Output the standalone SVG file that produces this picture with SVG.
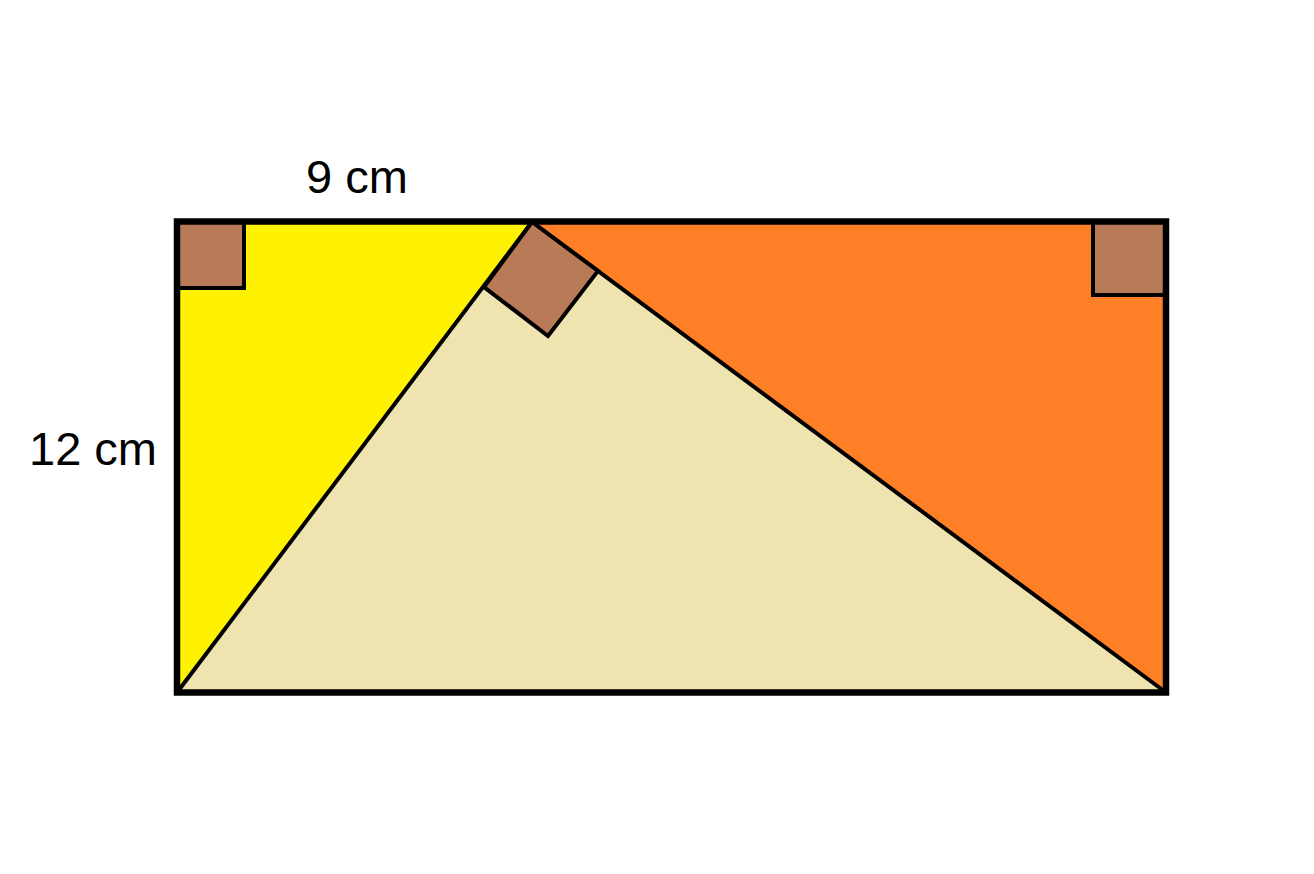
<svg xmlns="http://www.w3.org/2000/svg" width="1314" height="874" viewBox="0 0 1314 874">
<style>
.thin{stroke:#000;stroke-width:4;stroke-linejoin:miter;}
.sq{fill:#B97A57;stroke:#000;stroke-width:4;}
.lbl{font-family:"Liberation Sans",Arial,sans-serif;font-size:47px;fill:#000;}
</style>
<rect width="1314" height="874" fill="#fff"/>
<g id="yellow-triangle"><polygon points="177,221.5 532,221.5 177,692.5" fill="#FFF200"/></g>
<g id="orange-triangle"><polygon points="532,221.5 1166,221.5 1166,692.5" fill="#FF7F27"/></g>
<g id="beige-triangle"><polygon points="177,692.5 532,221.5 1166,692.5" fill="#EFE4B0"/></g>
<g id="connectors">
<line class="thin" x1="177" y1="692.5" x2="532" y2="222"/>
<line class="thin" x1="532" y1="222" x2="1166" y2="692.5"/>
</g>
<g id="right-angle-top-left"><rect class="sq" x="177" y="221.5" width="67" height="66.5"/></g>
<g id="right-angle-top-right"><rect class="sq" x="1093" y="221.5" width="73" height="73.5"/></g>
<g id="right-angle-apex"><polygon class="sq" points="532,222 484,287 548,336 598,271"/></g>
<g id="rectangle"><rect x="177" y="221.5" width="989" height="471" fill="none" stroke="#000" stroke-width="6.5"/></g>
<g id="labels">
<text class="lbl" x="306" y="193">9 cm</text>
<text class="lbl" x="29" y="465">12 cm</text>
</g>
</svg>
